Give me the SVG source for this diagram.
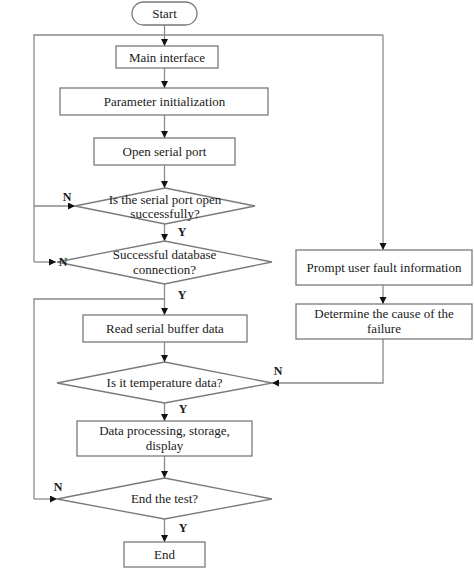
<svg xmlns="http://www.w3.org/2000/svg" width="474" height="571" viewBox="0 0 474 571">
  <defs>
    <marker id="arrow" markerWidth="8" markerHeight="8" refX="7" refY="3.5" orient="auto" markerUnits="userSpaceOnUse">
      <path d="M0,0 L7,3.5 L0,7 Z" fill="#111"/>
    </marker>
    <style>
      .shape { fill: #fff; stroke: #7a7a7a; stroke-width: 1.3; }
      .line { fill: none; stroke: #8a8a8a; stroke-width: 1.3; }
      .arr { marker-end: url(#arrow); }
      text { font-family: "Liberation Serif", "Times New Roman", serif; font-size: 13px; fill: #1a1a1a; text-anchor: middle; }
      .lbl { font-weight: bold; font-size: 12px; }
    </style>
  </defs>
  <rect width="474" height="571" fill="#fff"/>

  <!-- connectors -->
  <g id="connectors">
    <line class="line arr" x1="164.5" y1="25" x2="164.5" y2="46"/>
    <line class="line arr" x1="164.5" y1="68" x2="164.5" y2="88"/>
    <line class="line arr" x1="164.5" y1="115" x2="164.5" y2="138"/>
    <line class="line arr" x1="164.5" y1="165" x2="164.5" y2="188"/>
    <line class="line arr" x1="164.5" y1="224" x2="164.5" y2="241"/>
    <line class="line arr" x1="164.5" y1="284" x2="164.5" y2="315"/>
    <line class="line arr" x1="164.5" y1="342" x2="164.5" y2="362"/>
    <line class="line arr" x1="164.5" y1="403" x2="164.5" y2="421"/>
    <line class="line arr" x1="164.5" y1="456" x2="164.5" y2="478"/>
    <line class="line arr" x1="164.5" y1="519" x2="164.5" y2="542"/>
    <!-- upper retry loop -->
    <polyline class="line" points="34,262 34,35 383,35"/>
    <polyline class="line arr" points="34,206 75,206"/>
    <polyline class="line arr" points="34,262 56,262"/>
    <!-- fault branch -->
    <polyline class="line arr" points="383,35 383,250"/>
    <line class="line arr" x1="383" y1="285" x2="383" y2="304"/>
    <polyline class="line arr" points="383,339 383,383 272,383"/>
    <!-- lower test loop -->
    <polyline class="line" points="164.5,299 34,299 34,499"/>
    <polyline class="line arr" points="34,499 57,499"/>
  </g>

  <g id="start">
    <rect class="shape" x="132" y="2" width="65" height="23" rx="11.5" ry="11.5"/>
    <text x="164.5" y="18">Start</text>
  </g>
  <g id="main-interface">
    <rect class="shape" x="116" y="46" width="102" height="22"/>
    <text x="167" y="61.5">Main interface</text>
  </g>
  <g id="param-init">
    <rect class="shape" x="60" y="88" width="208" height="27"/>
    <text x="164.5" y="106">Parameter initialization</text>
  </g>
  <g id="open-port">
    <rect class="shape" x="94" y="138" width="141" height="27"/>
    <text x="164.5" y="156">Open serial port</text>
  </g>
  <g id="port-ok">
    <polygon class="shape" points="165,188 255,206 165,224 75,206"/>
    <text x="165" y="204">Is the serial port open</text>
    <text x="165" y="218">successfully?</text>
    <text class="lbl" x="67" y="201">N</text>
    <text class="lbl" x="182" y="236">Y</text>
  </g>
  <g id="db-ok">
    <polygon class="shape" points="164.5,241 272,262 164.5,284 57,262"/>
    <text x="164.5" y="259">Successful database</text>
    <text x="164.5" y="274">connection?</text>
    <text class="lbl" x="63" y="266">N</text>
    <text class="lbl" x="182" y="299">Y</text>
  </g>
  <g id="read-buffer">
    <rect class="shape" x="83" y="315" width="164" height="27"/>
    <text x="165" y="333">Read serial buffer data</text>
  </g>
  <g id="is-temp">
    <polygon class="shape" points="164.5,362 272,383 164.5,403 57,383"/>
    <text x="164.5" y="387">Is it temperature data?</text>
    <text class="lbl" x="278" y="375">N</text>
    <text class="lbl" x="183" y="413">Y</text>
  </g>
  <g id="process">
    <rect class="shape" x="77" y="421" width="175" height="35"/>
    <text x="164.5" y="435">Data processing, storage,</text>
    <text x="164.5" y="450">display</text>
  </g>
  <g id="end-test">
    <polygon class="shape" points="164.5,478 272,499 164.5,519 57,499"/>
    <text x="164.5" y="503">End the test?</text>
    <text class="lbl" x="58" y="491">N</text>
    <text class="lbl" x="183" y="532">Y</text>
  </g>
  <g id="end">
    <rect class="shape" x="124" y="542" width="81" height="25"/>
    <text x="164.5" y="559">End</text>
  </g>
  <g id="prompt-fault">
    <rect class="shape" x="296" y="250" width="176" height="35"/>
    <text x="384" y="272">Prompt user fault information</text>
  </g>
  <g id="find-cause">
    <rect class="shape" x="296" y="304" width="176" height="35"/>
    <text x="384" y="318">Determine the cause of the</text>
    <text x="384" y="333">failure</text>
  </g>
</svg>
